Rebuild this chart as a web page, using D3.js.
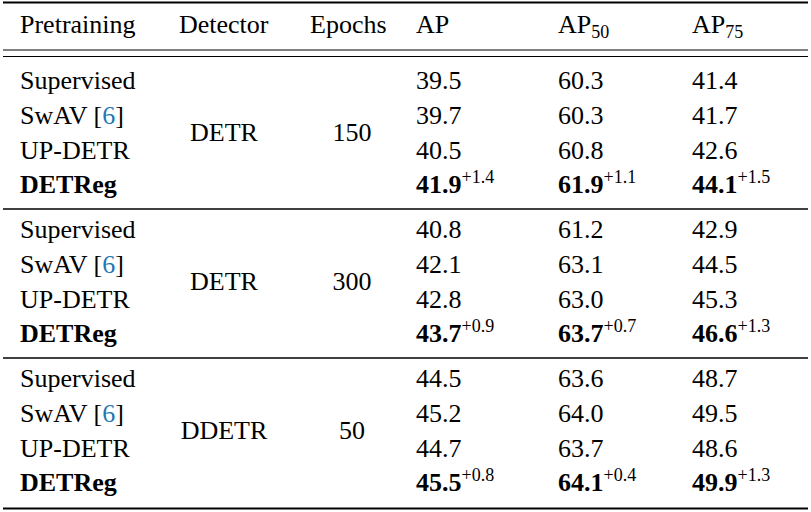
<!DOCTYPE html><html><head><script src="https://cdn.jsdelivr.net/npm/d3@7"></script>
<style>body{margin:0;background:#fff}</style></head><body>
<svg id="c" width="811" height="512" font-family="'Liberation Serif','Times New Roman',Tinos,'DejaVu Serif',serif"></svg>
<script>
const headers=["Pretraining","Detector","Epochs","AP","AP","AP"];
const headerSubs=["","","","","50","75"];
const methods=["Supervised","SwAV","UP-DETR","DETReg"];
const detectors=["DETR","DETR","DDETR"];
const epochs=["150","300","50"];
const AP=[[39.5,39.7,40.5,41.9],[40.8,42.1,42.8,43.7],[44.5,45.2,44.7,45.5]];
const AP50=[[60.3,60.3,60.8,61.9],[61.2,63.1,63.0,63.7],[63.6,64.0,63.7,64.1]];
const AP75=[[41.4,41.7,42.6,44.1],[42.9,44.5,45.3,46.6],[48.7,49.5,48.6,49.9]];
const gains=[["+1.4","+1.1","+1.5"],["+0.9","+0.7","+1.3"],["+0.8","+0.4","+1.3"]];

const svg=d3.select("#c");
const fs=26;
const colX={m:20,det:224,ep:352,ap:416,ap50:558,ap75:692};
const groupTop=[62,211,360], rowH=34.8;
const y=(g,r)=>groupTop[g]+27+r*rowH;
function line(yy,w){svg.append("line").attr("x1",3).attr("x2",808).attr("y1",yy).attr("y2",yy).attr("stroke","#000").attr("stroke-width",w);}
line(2.5,2);line(50,1.2);line(56.5,1.2);line(209,1.5);line(358,1.5);line(508.5,2);
const hx=[colX.m,colX.det-45,colX.ep-42,colX.ap,colX.ap50,colX.ap75];
headers.forEach((h,i)=>{const t=svg.append("text").attr("x",hx[i]).attr("y",33).attr("font-size",fs);t.append("tspan").text(h);
 if(headerSubs[i])t.append("tspan").attr("font-size",18).attr("dy",5).text(headerSubs[i]);});
const cols=[AP,AP50,AP75],cx=[colX.ap,colX.ap50,colX.ap75];
for(let g=0;g<3;g++){
 methods.forEach((m,r)=>{const t=svg.append("text").attr("x",colX.m).attr("y",y(g,r)).attr("font-size",fs);
  if(m==="SwAV"){t.append("tspan").text("SwAV [");t.append("tspan").attr("fill","#1f77b4").text("6");t.append("tspan").text("]");}
  else t.append("tspan").attr("font-weight",r===3?"bold":null).text(m);
  cols.forEach((c,k)=>{const tt=svg.append("text").attr("x",cx[k]).attr("y",y(g,r)).attr("font-size",fs);
   tt.append("tspan").attr("font-weight",r===3?"bold":null).text(c[g][r].toFixed(1));
   if(r===3)tt.append("tspan").attr("font-size",18).attr("dy",-10).text(gains[g][k]);});
 });
 const mid=(y(g,1)+y(g,2))/2;
 svg.append("text").attr("x",colX.det).attr("y",mid).attr("text-anchor","middle").attr("font-size",fs).text(detectors[g]);
 svg.append("text").attr("x",colX.ep).attr("y",mid).attr("text-anchor","middle").attr("font-size",fs).text(epochs[g]);
}
</script></body></html>
